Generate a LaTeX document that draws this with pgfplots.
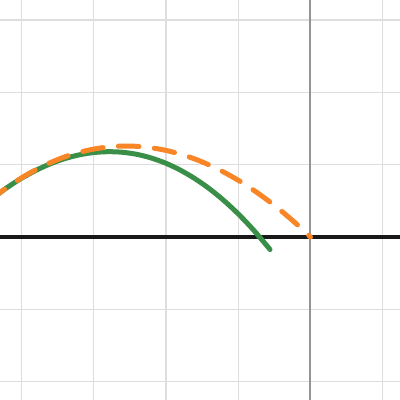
\documentclass[border=0pt]{standalone}
\usepackage{pgfplots}
\pgfplotsset{compat=1.18}

\definecolor{dgreen}{RGB}{58,143,72}
\definecolor{dorange}{RGB}{248,134,38}
\definecolor{gridgray}{RGB}{222,222,222}

\begin{document}
\begin{tikzpicture}
\begin{axis}[
    width=300pt, height=300pt, scale only axis,
    xmin=-4.295, xmax=1.238,
    ymin=-2.254, ymax=3.278,
    xtick={-4,-3,-2,-1,1}, ytick={-2,-1,1,2,3},
    xticklabels={}, yticklabels={},
    major tick length=0pt,
    axis line style={draw=none},
    grid=major,
    grid style={gridgray, line width=1.05pt},
    extra x ticks={0}, extra x tick labels={},
    extra x tick style={grid style={color=black!42, line width=1.5pt}},
    extra y ticks={0}, extra y tick labels={},
    extra y tick style={grid style={color=black!90, line width=2.3pt}},
]
% green curve
\addplot[dgreen, line width=3.75pt, line cap=round, smooth] coordinates {
    (-4.4,0.536) (-4.2,0.682) (-4.0,0.811) (-3.8,0.921) (-3.6,1.012)
    (-3.4,1.084) (-3.2,1.136) (-3.0,1.168) (-2.8,1.180) (-2.6,1.172)
    (-2.4,1.143) (-2.2,1.092) (-2.0,1.020) (-1.8,0.925) (-1.6,0.808)
    (-1.4,0.669) (-1.2,0.506) (-1.0,0.320) (-0.8,0.110) (-0.6,-0.124)
    (-0.56,-0.173)
};
% orange dashed curve
\addplot[dorange, line width=3.75pt, line cap=round, smooth,
    dash pattern=on 15.5pt off 11.5pt, dash phase=4pt] coordinates {
    (-4.4,0.534) (-4.2,0.684) (-4.0,0.816) (-3.8,0.931) (-3.6,1.028)
    (-3.4,1.108) (-3.2,1.170) (-3.0,1.216) (-2.8,1.245) (-2.6,1.258)
    (-2.4,1.254) (-2.2,1.234) (-2.0,1.198) (-1.8,1.146) (-1.6,1.079)
    (-1.4,0.996) (-1.2,0.898) (-1.0,0.785) (-0.8,0.657) (-0.6,0.514)
    (-0.4,0.357) (-0.2,0.186) (0,0)
};
\end{axis}
\pgfresetboundingbox
\useasboundingbox (current axis.south west) rectangle (current axis.north east);
\end{tikzpicture}
\end{document}
